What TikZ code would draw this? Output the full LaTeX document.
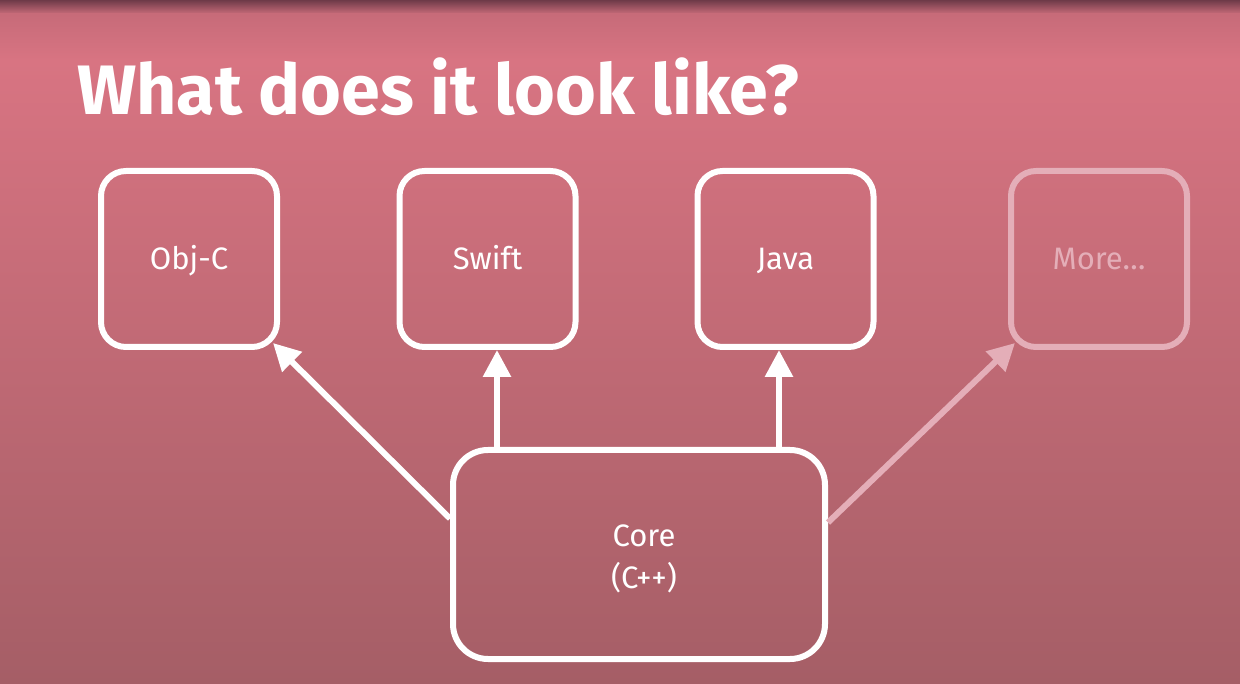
\documentclass[tikz,border=0pt]{standalone}
\usepackage{fontspec}
\setmainfont{Fira Sans}
\usetikzlibrary{arrows.meta,calc}
\definecolor{bgtop}{HTML}{D87482}
\definecolor{bgmid}{HTML}{C76B79}
\definecolor{bgbot}{HTML}{A55E66}
\definecolor{bgdark}{HTML}{6E3A48}
\definecolor{faintcol}{HTML}{E4AEB8}
\tikzset{
  box/.style={draw=white, line width=6pt, rounded corners=25pt, minimum width=176pt, minimum height=176pt, inner sep=0pt, text=white, text height=22pt, text depth=0pt, font=\fontsize{31}{36}\selectfont},
  corebox/.style={draw=white, line width=6pt, rounded corners=35pt, minimum width=372pt, minimum height=209pt, inner sep=0pt, text=white, align=center, font=\fontsize{31}{42}\selectfont},
  faint/.style={draw=faintcol, text=faintcol},
  arr/.style={draw=white, line width=6pt, -{Triangle[length=27pt,width=27pt]}},
  faintarr/.style={arr, draw=faintcol},
}
\begin{document}
\begin{tikzpicture}[x=1pt,y=-1pt]
\useasboundingbox (0,0) rectangle (1240,684);
\shade[top color=bgdark, bottom color=bgmid] (0,0) rectangle (1240,14);
\shade[top color=bgmid, bottom color=bgtop] (0,14) rectangle (1240,60);
\shade[top color=bgtop, bottom color=bgbot] (0,60) rectangle (1240,684);
\node[anchor=base west, inner sep=0pt, text=white, font=\fontsize{70}{76}\selectfont\bfseries] (title) at (77,115) {What does it look like?};
\node[box] (objc) at (189,259) {Obj-C};
\node[box] (swift) at (487.5,259) {Swift};
\node[box] (java) at (785.5,259) {Java};
\node[box, faint] (more) at (1099,259) {More…};
\node[corebox] (core) at (639,554.5) {};
\node[inner sep=0pt, anchor=base, text=white, font=\fontsize{31}{36}\selectfont] (coreA) at (644,546) {Core};
\node[inner sep=0pt, anchor=base, text=white, font=\fontsize{31}{36}\selectfont] (coreB) at (644,588) {(C++)};
\draw[arr] ($(core.west)+(0,-36)$) -- ($(objc.south east)+(-7,-7)$);
\draw[arr] (core.north -| 497,0) -- (swift.south -| 497,0);
\draw[arr] (core.north -| 779,0) -- (java.south -| 779,0);
\draw[faintarr] ($(core.east)+(0,-32)$) -- ($(more.south west)+(7,-7)$);
\end{tikzpicture}
\end{document}
